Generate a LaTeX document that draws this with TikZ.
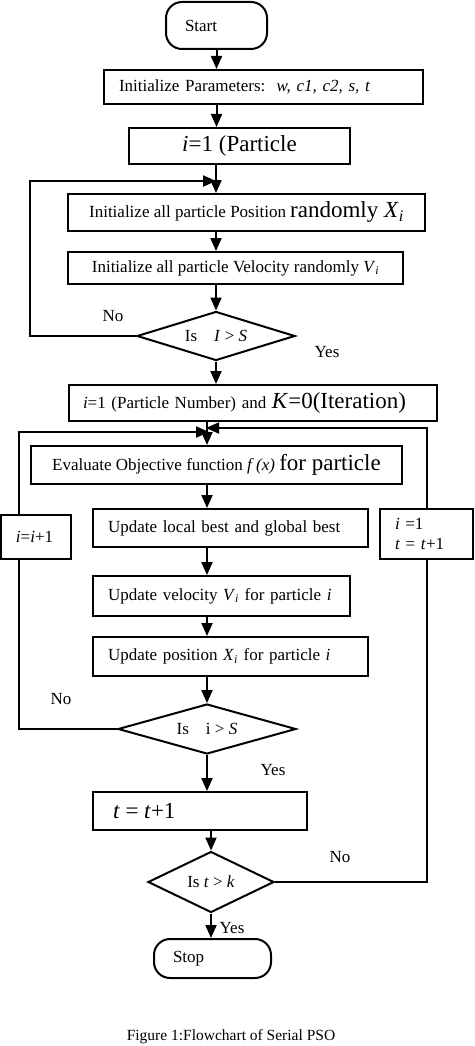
\documentclass[tikz,border=0pt]{standalone}
\usepackage{fontspec}
\setmainfont{Liberation Serif}
\usetikzlibrary{positioning,shapes.geometric,arrows.meta}
\newcommand{\bigtxt}{\fontsize{23}{26}\selectfont}

\begin{document}
\begin{tikzpicture}[x=1pt,y=-1pt,
  box/.style={draw,line width=2pt,inner xsep=15pt,inner ysep=0pt,align=left,font=\fontsize{17}{20}\selectfont},
  cbox/.style={box,align=center},
  term/.style={box,rounded corners=16pt,inner xsep=19pt},
  decision/.style={draw,diamond,aspect=3.2,line width=2pt,inner sep=0pt,font=\fontsize{17}{20}\selectfont},
  arr/.style={line width=2pt,-{Triangle[width=11pt,length=13pt]}},
  line/.style={line width=2pt},
  lbl/.style={font=\fontsize{17}{20}\selectfont}]
\useasboundingbox (0,0) rectangle (474,1046);

% Initialisation blocks
\node[term,text width=63pt,minimum height=47pt] (start) at (216.5,25.5) {Start};
\node[box,text width=289pt,minimum height=34pt] (params) at (263.5,87) {Initialize Parameters:\ \ \textit{w, c1, c2, s, t}};
\node[cbox,minimum width=221pt,minimum height=36pt] (part1) at (239.5,146) {\bigtxt\textit{i}=1 (Particle};
\node[cbox,minimum width=357pt,minimum height=37pt] (initpos) at (246.5,212.5) {Initialize all particle Position {\bigtxt randomly \textit{X}\textsubscript{\textit{i}}}};
\node[cbox,minimum width=335pt,minimum height=32pt] (initvel) at (235.5,268) {Initialize all particle Velocity randomly \textit{V}\textsubscript{\textit{i}}};
\node[decision,minimum width=158pt,minimum height=49pt] (dec1) at (216,336) {Is\quad\textit{I} > \textit{S}};

% Main loop blocks
\node[box,inner xsep=14pt,text width=340pt,minimum height=36pt] (iter) at (253,403) {\textit{i}=1 (Particle Number) and {\bigtxt\textit{K}=0(Iteration)}};
\node[cbox,minimum width=371pt,minimum height=38pt] (eval) at (216.5,465) {Evaluate Objective function \textit{f (x)} {\bigtxt for particle}};
\node[box,text width=245pt,minimum height=38pt] (best) at (230.5,528) {Update local best and global best};
\node[box,text width=227pt,minimum height=40pt] (updv) at (221.5,596) {Update velocity \textit{V}\textsubscript{\textit{i}} for particle \textit{i}};
\node[box,text width=245pt,minimum height=39pt] (updx) at (230.5,656.5) {Update position \textit{X}\textsubscript{\textit{i}} for particle \textit{i}};
\node[decision,minimum width=178pt,minimum height=50pt] (dec2) at (207,729) {Is\quad i > \textit{S}};
\node[box,inner xsep=20pt,text width=174pt,minimum height=38pt] (tinc) at (200,811) {\bigtxt\textit{t} = \textit{t}+1};
\node[decision,minimum width=126pt,minimum height=61pt] (dec3) at (211,882) {Is \textit{t} > \textit{k}};
\node[term,text width=79pt,minimum height=39pt] (stop) at (212.5,958.5) {Stop};

% Counter boxes on the loops
\node[box,text width=40pt,minimum height=44pt] (inc) at (36,537) {\textit{i}=\textit{i}+1};
\node[box,text width=63pt,minimum height=50pt] (reset) at (426.5,534) {\textit{i} =1\\\textit{t} = \textit{t}+1};

% Straight arrows
\draw[arr] (start.south) -- (start.south |- params.north);
\draw[arr] (start.south |- params.south) -- (start.south |- part1.north);
\draw[arr] (part1.south -| dec1) -- (initpos.north -| dec1);
\draw[arr] (initpos.south -| dec1) -- (initvel.north -| dec1);
\draw[arr] (initvel.south -| dec1) -- (dec1.north);
\draw[arr] (dec1.south) -- (iter.north -| dec1);
\draw[arr] (iter.south -| dec2) -- (eval.north -| dec2);
\draw[arr] (eval.south -| dec2) -- (best.north -| dec2);
\draw[arr] (best.south -| dec2) -- (updv.north -| dec2);
\draw[arr] (updv.south -| dec2) -- (updx.north -| dec2);
\draw[arr] (updx.south -| dec2) -- (dec2.north);
\draw[arr] (dec2.south) -- (tinc.north -| dec2);
\draw[arr] (tinc.south -| dec3) -- (dec3.north);
\draw[arr] (dec3.south) -- (stop.north -| dec3);

% Feedback loops
\coordinate (j1) at (216,181);
\coordinate (j2) at (209,432);
\coordinate (j3) at (206,428);
\coordinate (lft) at (19,0);
\draw[arr] (dec1.west) -- ++(-106,0) |- (j1);
\draw[line] (dec2.west) -| (inc.south -| lft);
\draw[arr] (inc.north -| lft) |- (j2);
\draw[line] (dec3.east) -| (reset.south);
\draw[arr] (reset.north) |- (j3);

% Branch labels
\node[lbl] (no1) at (113,316) {No};
\node[lbl] (yes1) at (327,352) {Yes};
\node[lbl] (no2) at (61,699) {No};
\node[lbl] (yes2) at (273,770) {Yes};
\node[lbl] (no3) at (340,857) {No};
\node[lbl] (yes3) at (232,928) {Yes};

\node[font=\fontsize{15.5}{18}\selectfont] (cap) at (231,1037) {Figure 1:Flowchart of Serial PSO};
\end{tikzpicture}
\end{document}
